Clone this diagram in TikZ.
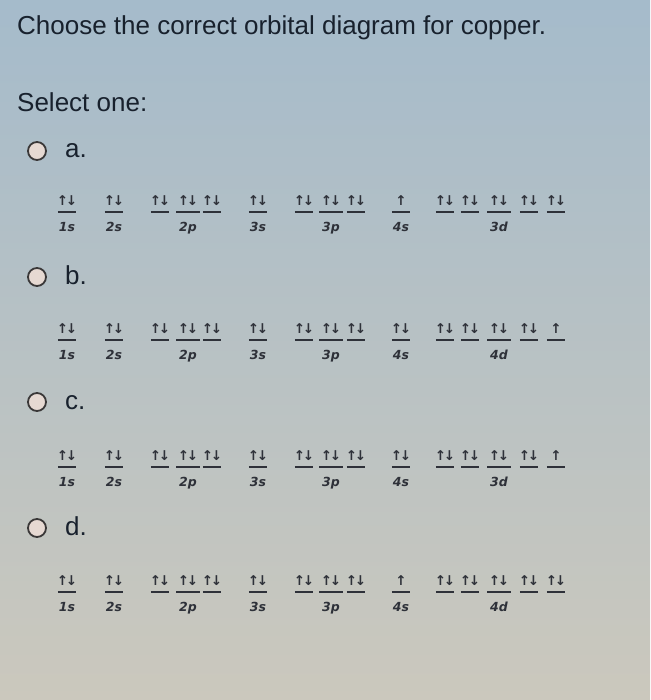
\documentclass[tikz,border=0pt]{standalone}
\usepackage{fontspec}
\setmainfont{Liberation Sans}
\newfontfamily\orbfont{DejaVu Sans}
\usepackage{tikz}
\usetikzlibrary{positioning}

\definecolor{ink}{HTML}{18212D}
\definecolor{ring}{HTML}{3A3838}
\definecolor{knob}{HTML}{E6D9D2}
\definecolor{spin}{HTML}{2E3139}
\definecolor{bgtop}{HTML}{A5BBCB}
\definecolor{bgmid}{HTML}{BDC8CA}
\definecolor{bgbot}{HTML}{CBC8BD}

\begin{document}
\begin{tikzpicture}[
    x=1pt, y=-1pt,
    question/.style={font=\fontsize{26}{30}\selectfont, text=ink, anchor=base west, inner sep=0},
    radio/.style={circle, draw=ring, line width=1.8pt, fill=knob, minimum size=18pt, inner sep=0},
    choice/.style={font=\fontsize{26}{30}\selectfont, text=ink, anchor=base west, inner sep=0},
    orb/.style={minimum width=18pt, minimum height=23pt, inner sep=0, anchor=south, text=spin, font=\orbfont\bfseries\fontsize{13.5}{13.5}\selectfont},
    paired/.style={node contents={\makebox[0pt]{↑\kern-2.4pt↓}}},
    lone/.style={node contents={\makebox[0pt]{↑}}},
    orbline/.style={draw=spin, line width=2.2pt},
    sublevel/.style={font=\orbfont\bfseries\itshape\fontsize{12.5}{12.5}\selectfont, text=spin, inner sep=0, text height=9.5pt, text depth=2.5pt},
]

% screen
\fill[top color=bgtop, middle color=bgmid, bottom color=bgbot] (0,0) rectangle (650,700);
\useasboundingbox (0,0) rectangle (650,700);

% question
\node[question] (q) at (17,35) {Choose the correct orbital diagram for copper.};
\node[question] (sel) at (17,112) {Select one:};

% option a
\node[radio] (ra) at (37,151) {};
\node[choice] (ta) at (65,158) {a.};
\foreach \n/\x/\w/\e in {1s/67/18pt/paired, 2s/114/18pt/paired, 2p1/160/18pt/paired, 2p2/188/23pt/paired, 2p3/212/18pt/paired,
    3s/258/18pt/paired, 3p1/304/18pt/paired, 3p2/331/23pt/paired, 3p3/356/18pt/paired, 4s/401/18pt/lone,
    d1/445/18pt/paired, d2/470/18pt/paired, d3/499/23pt/paired, d4/529/18pt/paired, d5/556/18pt/paired}
  {\node (a\n) at (\x,212) [orb, minimum width=\w, \e];
   \draw[orbline] (a\n.south west) -- (a\n.south east);}
\foreach \n/\t in {1s/1s, 2s/2s, 2p2/2p, 3s/3s, 3p2/3p, 4s/4s, d3/3d}
  \node[sublevel, below=10pt of a\n] (la\n) {\t};

% option b
\node[radio] (rb) at (37,277) {};
\node[choice] (tb) at (65,284.5) {b.};
\foreach \n/\x/\w/\e in {1s/67/18pt/paired, 2s/114/18pt/paired, 2p1/160/18pt/paired, 2p2/188/23pt/paired, 2p3/212/18pt/paired,
    3s/258/18pt/paired, 3p1/304/18pt/paired, 3p2/331/23pt/paired, 3p3/356/18pt/paired, 4s/401/18pt/paired,
    d1/445/18pt/paired, d2/470/18pt/paired, d3/499/23pt/paired, d4/529/18pt/paired, d5/556/18pt/lone}
  {\node (b\n) at (\x,340) [orb, minimum width=\w, \e];
   \draw[orbline] (b\n.south west) -- (b\n.south east);}
\foreach \n/\t in {1s/1s, 2s/2s, 2p2/2p, 3s/3s, 3p2/3p, 4s/4s, d3/4d}
  \node[sublevel, below=10pt of b\n] (lb\n) {\t};

% option c
\node[radio] (rc) at (37,402) {};
\node[choice] (tc) at (65,409.5) {c.};
\foreach \n/\x/\w/\e in {1s/67/18pt/paired, 2s/114/18pt/paired, 2p1/160/18pt/paired, 2p2/188/23pt/paired, 2p3/212/18pt/paired,
    3s/258/18pt/paired, 3p1/304/18pt/paired, 3p2/331/23pt/paired, 3p3/356/18pt/paired, 4s/401/18pt/paired,
    d1/445/18pt/paired, d2/470/18pt/paired, d3/499/23pt/paired, d4/529/18pt/paired, d5/556/18pt/lone}
  {\node (c\n) at (\x,467) [orb, minimum width=\w, \e];
   \draw[orbline] (c\n.south west) -- (c\n.south east);}
\foreach \n/\t in {1s/1s, 2s/2s, 2p2/2p, 3s/3s, 3p2/3p, 4s/4s, d3/3d}
  \node[sublevel, below=10pt of c\n] (lc\n) {\t};

% option d
\node[radio] (rd) at (37,528) {};
\node[choice] (td) at (65,535.5) {d.};
\foreach \n/\x/\w/\e in {1s/67/18pt/paired, 2s/114/18pt/paired, 2p1/160/18pt/paired, 2p2/188/23pt/paired, 2p3/212/18pt/paired,
    3s/258/18pt/paired, 3p1/304/18pt/paired, 3p2/331/23pt/paired, 3p3/356/18pt/paired, 4s/401/18pt/lone,
    d1/445/18pt/paired, d2/470/18pt/paired, d3/499/23pt/paired, d4/529/18pt/paired, d5/556/18pt/paired}
  {\node (d\n) at (\x,592) [orb, minimum width=\w, \e];
   \draw[orbline] (d\n.south west) -- (d\n.south east);}
\foreach \n/\t in {1s/1s, 2s/2s, 2p2/2p, 3s/3s, 3p2/3p, 4s/4s, d3/4d}
  \node[sublevel, below=10pt of d\n] (ld\n) {\t};

\end{tikzpicture}
\end{document}
